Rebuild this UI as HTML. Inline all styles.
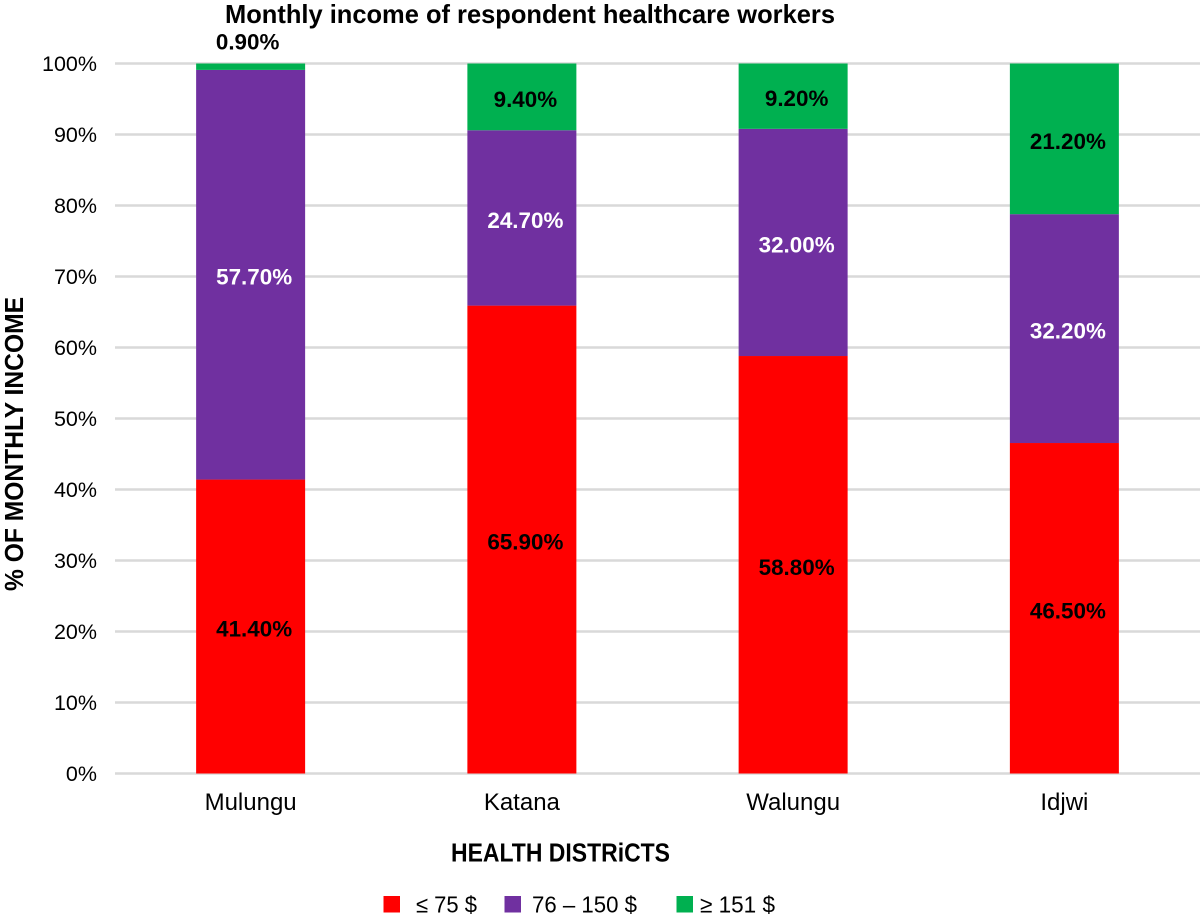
<!DOCTYPE html>
<html lang="en">
<head>
<meta charset="utf-8">
<title>Monthly income of respondent healthcare workers</title>
<style>
html,body{margin:0;padding:0;background:#fff;}
svg{display:block;}
text{font-family:"Liberation Sans",sans-serif;fill:#000;}
</style>
</head>
<body>
<svg id="chart" xmlns="http://www.w3.org/2000/svg" width="1200" height="920" viewBox="0 0 1200 920">
  <text x="225" y="23" font-size="26" font-weight="bold" textLength="610" lengthAdjust="spacingAndGlyphs">Monthly income of respondent healthcare workers</text>
  <g id="grid"></g>
  <g id="yticks"></g>
  <g id="bars"></g>
  <g id="xticks"></g>
  <text transform="translate(23,591) rotate(-90)" font-size="26" font-weight="bold" textLength="294" lengthAdjust="spacingAndGlyphs">% OF MONTHLY INCOME</text>
  <text x="451" y="861.5" font-size="25.5" font-weight="bold" textLength="219" lengthAdjust="spacingAndGlyphs">HEALTH DISTRiCTS</text>
  <g>
    <g>
      <rect x="383.5" y="896" width="16.5" height="16.5" fill="#ff0000"/>
      <text x="416" y="912.5" font-size="23" textLength="61" lengthAdjust="spacingAndGlyphs">≤ 75 $</text>
    </g>
    <g>
      <rect x="504.5" y="896" width="16.5" height="16.5" fill="#7030a0"/>
      <text x="532" y="912.5" font-size="23" textLength="105" lengthAdjust="spacingAndGlyphs">76 – 150 $</text>
    </g>
    <g>
      <rect x="676.5" y="896" width="16.5" height="16.5" fill="#00b050"/>
      <text x="700" y="912.5" font-size="23" textLength="75" lengthAdjust="spacingAndGlyphs">≥ 151 $</text>
    </g>
  </g>
</svg>
<script>
const categories = ["Mulungu", "Katana", "Walungu", "Idjwi"];
const lowIncome = [41.4, 65.9, 58.8, 46.5];
const midIncome = [57.7, 24.7, 32.0, 32.2];
const highIncome = [0.9, 9.4, 9.2, 21.2];
const yTickValues = [0, 10, 20, 30, 40, 50, 60, 70, 80, 90, 100];

const NS = "http://www.w3.org/2000/svg";
const plotLeft = 115, plotRight = 1200, plotTop = 63.5, plotBottom = 773.5, barWidth = 109;
function yScale(v) { return plotBottom - (v / 100) * (plotBottom - plotTop); }
function xCenter(i) { return plotLeft + (i + 0.5) * (plotRight - plotLeft) / categories.length; }
function make(tag, attrs, parent, txt) {
  const el = document.createElementNS(NS, tag);
  for (const k in attrs) el.setAttribute(k, attrs[k]);
  if (txt !== undefined) el.textContent = txt;
  parent.appendChild(el);
  return el;
}
const gridG = document.getElementById("grid");
const yG = document.getElementById("yticks");
const xG = document.getElementById("xticks");
const barsG = document.getElementById("bars");

yTickValues.forEach(function (t) {
  const line = make("line", { x1: plotLeft, x2: plotRight, y1: yScale(t), y2: yScale(t), stroke: "#d9d9d9", "stroke-width": 2.5 }, gridG);
  
  
  const label = make("text", { x: 97, y: yScale(t) + 7.5, "text-anchor": "end", "font-size": 21.5 }, yG, t + "%");
  
  
});

categories.forEach(function (c, i) {
  const label = make("text", { x: xCenter(i), y: 810, "text-anchor": "middle", "font-size": 24 }, xG, c);
  
  

  const low = lowIncome[i], mid = midIncome[i], high = highIncome[i];
  const total = low + mid + high;
  const stacks = [
    { v: low, fill: "#ff0000", text: "#000000" },
    { v: mid, fill: "#7030a0", text: "#ffffff" },
    { v: high, fill: "#00b050", text: "#000000" }
  ];
  let acc = 0;
  stacks.forEach(function (s) {
    const share = s.v / total * 100;
    const yTop = yScale(acc + share), yBase = yScale(acc);
    const rect = make("rect", { x: xCenter(i) - barWidth / 2, y: yTop, width: barWidth, height: yBase - yTop, fill: s.fill }, barsG);
    
    
    acc += share;
  });
  acc = 0;
  stacks.forEach(function (s) {
    const share = s.v / total * 100;
    const yTop = yScale(acc + share), yBase = yScale(acc);
    const small = share < 3;
    const str = s.v.toFixed(2) + "%";
    const ty = small ? yTop - 14 : (yTop + yBase) / 2 + 10;
    const lx = small ? xCenter(i) - 3 : xCenter(i) + 3.5;
    const val = make("text", { x: lx, y: ty, "text-anchor": "middle", "font-size": 22, "font-weight": "bold", textLength: str.length > 5 ? 76 : 63.5, lengthAdjust: "spacingAndGlyphs", style: "fill:" + s.text }, barsG, str);
    
    
    acc += share;
  });
});
</script>
</body>
</html>
